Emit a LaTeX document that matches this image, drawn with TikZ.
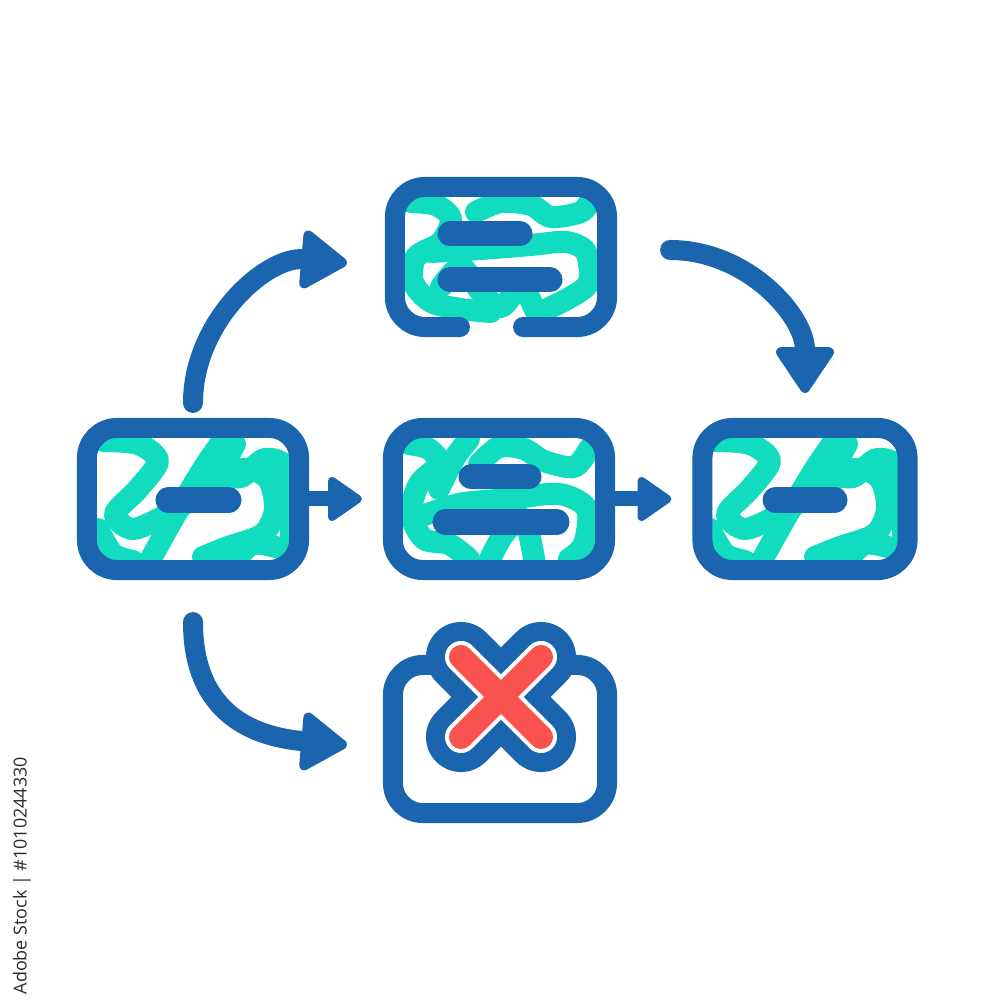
\documentclass[tikz,border=0pt]{standalone}
\usepackage{fontspec}
\newfontfamily\tagfont{Open Sans}
\usepackage{tikz}
\usetikzlibrary{arrows.meta,backgrounds}
\definecolor{inkblue}{HTML}{1B65AF}
\definecolor{mint}{HTML}{12DCC0}
\definecolor{alarm}{HTML}{F9524F}
\definecolor{tagdark}{HTML}{2B2B2B}
\tikzset{
  panel/.style={rectangle, minimum width=2.12cm, minimum height=1.42cm, inner sep=0pt, outer sep=1mm},
  rim/.style={draw=inkblue, line width=2mm, rounded corners=3mm},
  bar/.style={inkblue, line width=2.5mm, line cap=round},
  scrib/.style={mint, line width=2.2mm, line cap=round, line join=round},
  flow/.style={inkblue, line width=2mm, line cap=round, -{Triangle[length=5mm,width=6.4mm,round,line width=1mm]}},
  link/.style={inkblue, line width=1.5mm, -{Triangle[length=3.7mm,width=4.9mm,round,line width=0.8mm]}},
}
% tangle used in the two side boxes
\newcommand{\tangleside}{%
  \draw[scrib] plot[smooth] coordinates {(-90,58) (-55,55) (-35,38) (-55,10) (-78,-15) (-60,-30) (-25,-15) (15,10) (50,30) (75,20) (82,-10) (70,-35) (35,-48) (10,-58)};
  \draw[scrib] plot[smooth] coordinates {(-45,-65) (-20,-20) (10,30) (32,62)};
  \draw[scrib] plot[smooth] coordinates {(42,55) (30,28) (48,22) (72,40) (95,28) (98,-40)};
  \draw[scrib] plot[smooth] coordinates {(40,-65) (60,-45) (90,-50)};
  \draw[scrib] plot[smooth] coordinates {(-95,-30) (-80,-55) (-60,-62)};
}

\begin{document}
\begin{tikzpicture}[x=0.01cm,y=0.01cm]
\useasboundingbox (0,0) rectangle (1000,1000);

% Boxes
\node[panel, rim] (left) at (193,501) {};
\node[panel, rim] (mid) at (499,501) {};
\node[panel, rim, minimum width=2.05cm] (right) at (805,501) {};
\node[panel, rim, minimum width=2.14cm, minimum height=1.48cm] (bottom) at (500,261) {};
\node[panel, minimum height=1.40cm] (top) at (501,743) {};

% top box has a gap in its lower edge
\draw[rim, line cap=round] ([shift={(-4.1mm,1mm)}]top.south) -- ([shift={(1mm,1mm)}]top.south west)
  -- ([shift={(1mm,-1mm)}]top.north west) -- ([shift={(-1mm,-1mm)}]top.north east)
  -- ([shift={(-1mm,1mm)}]top.south east) -- ([shift={(2.2mm,1mm)}]top.south);

% Tangles behind the boxes
\begin{scope}[on background layer]
  \begin{scope}
    \clip[rounded corners=4mm] (left.south west) rectangle (left.north east);
    \begin{scope}[shift={(left.center)}] \tangleside \end{scope}
  \end{scope}
  \begin{scope}
    \clip[rounded corners=4mm] (right.south west) rectangle (right.north east);
    \begin{scope}[shift={(right.center)}] \tangleside \end{scope}
  \end{scope}
  \begin{scope}
    \clip[rounded corners=4mm] (mid.south west) rectangle (mid.north east);
    \begin{scope}[shift={(mid.center)}]
      \draw[scrib] plot[smooth] coordinates {(-90,55) (-70,50) (-60,35) (-80,15) (-88,-15) (-75,-40) (-50,-45) (-30,-60)};
      \draw[scrib] plot[smooth] coordinates {(-85,-20) (-40,-5) (10,0) (60,5) (88,-10) (85,-45) (70,-60)};
      \draw[scrib] plot[smooth] coordinates {(-20,35) (0,52) (25,50) (45,38) (75,32) (90,50)};
      \draw[scrib] plot[smooth] coordinates {(-60,10) (-45,40) (-30,60)};
      \draw[scrib] plot[smooth] coordinates {(-10,-62) (5,-35) (25,-20) (35,-60)};
    \end{scope}
  \end{scope}
  \begin{scope}
    \clip[rounded corners=4mm] (top.south west) rectangle (top.north east);
    \begin{scope}[shift={(top.center)}]
      \draw[scrib] plot[smooth] coordinates {(-90,55) (-65,52) (-50,38) (-60,15) (-85,0) (-88,-25) (-70,-45) (-40,-52) (-10,-55)};
      \draw[scrib] plot[smooth] coordinates {(-70,5) (-20,8) (30,12) (65,15) (85,5) (88,-25) (70,-40) (40,-55)};
      \draw[scrib] plot[smooth] coordinates {(-25,45) (0,55) (30,52) (50,40) (80,45) (90,58)};
      \draw[scrib] plot[smooth] coordinates {(-60,-30) (-40,-10) (-20,-35) (0,-50) (20,-30) (35,-55)};
    \end{scope}
  \end{scope}
\end{scope}

% Bars
\draw[bar] (450,766) -- (520,766);
\draw[bar] (450,720) -- (550,720);
\draw[bar] (168,500) -- (229,500);
\draw[bar] (471,523) -- (529,523);
\draw[bar] (445,478) -- (557,478);
\draw[bar] (775,500) -- (835,500);

% Cross on the bottom box
\foreach \w/\c in {7mm/inkblue, 3.2mm/white, 2.4mm/alarm}
  \draw[\c, line width=\w, line cap=round] (461,343) -- (541,263) (461,263) -- (541,343);

% Arrows
\draw[link, shorten >=2.1mm] (left.east) -- (mid.west);
\draw[link, shorten >=2.1mm] (mid.east) -- (right.west);
\draw[flow] ([yshift=1.5mm]left.north) to[out=90, in=175] ([xshift=-3.8mm, yshift=-0.6mm]top.west);
\draw[flow] ([xshift=5.3mm, yshift=0.7mm]top.east) to[out=0, in=90] ([yshift=2.5mm]right.north);
\draw[flow] ([yshift=-4.2mm]left.south) to[out=-90, in=175, looseness=1.2] ([xshift=-3.6mm, yshift=-0.6mm]bottom.west);

% Stock tag
\node[rotate=90, anchor=west, inner sep=0pt, text=tagdark, font=\tagfont\fontsize{5.1}{6}\selectfont] (tag) at (22,5) {Adobe Stock | \#1010244330};

\end{tikzpicture}
\end{document}
